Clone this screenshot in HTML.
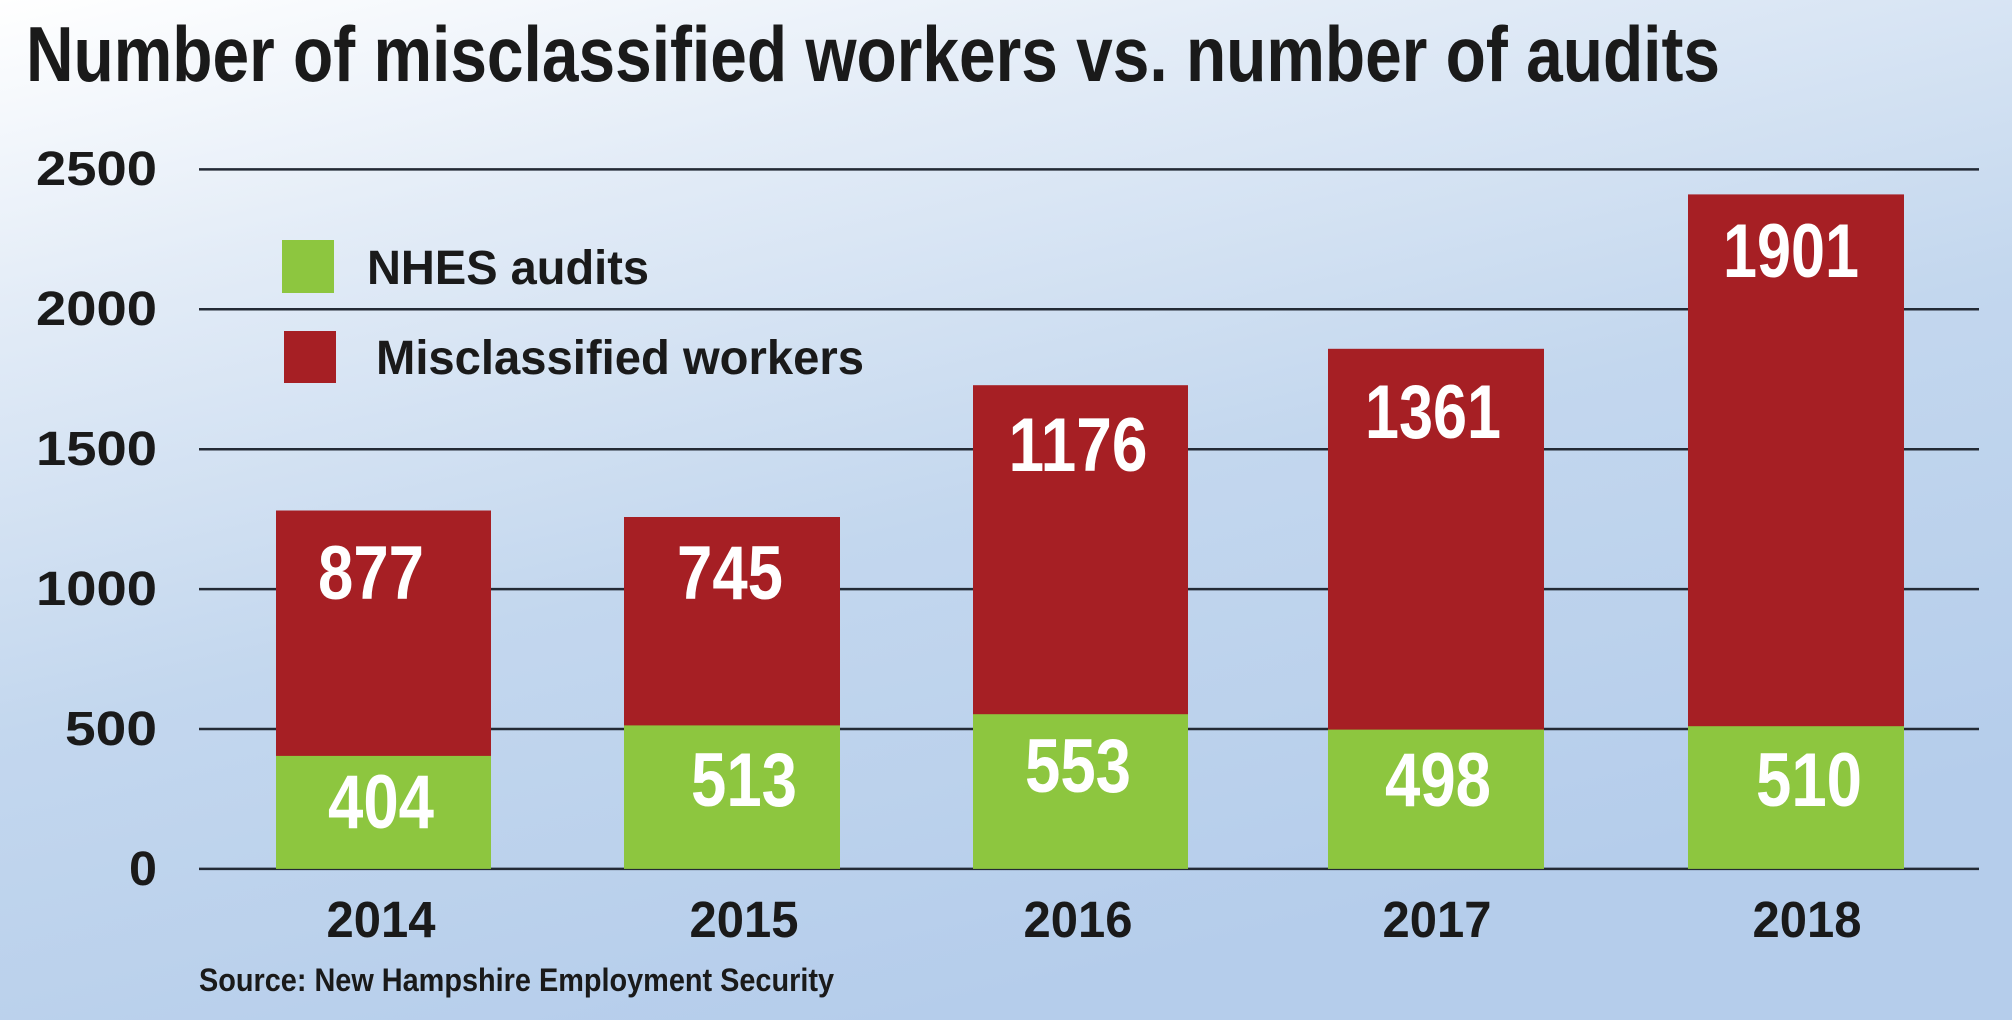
<!DOCTYPE html>
<html><head><meta charset="utf-8"><style>
html,body{margin:0;padding:0;width:2012px;height:1020px;overflow:hidden}
svg{display:block}
.n{font-family:"Liberation Sans Narrow","Liberation Sans",sans-serif;font-weight:bold}
.s{font-family:"Liberation Sans",sans-serif;font-weight:bold}
</style></head><body>
<svg width="2012" height="1020" viewBox="0 0 2012 1020" xmlns="http://www.w3.org/2000/svg">
<defs>
<linearGradient id="bg" x1="0" y1="0" x2="0.45" y2="1">
<stop offset="0" stop-color="#ffffff"/>
<stop offset="0.25" stop-color="#e3ecf7"/>
<stop offset="0.6" stop-color="#c3d7ee"/>
<stop offset="1" stop-color="#b5cdeb"/>
</linearGradient>
</defs>
<rect width="2012" height="1020" fill="url(#bg)"/>
<text class="n" x="26" y="81" font-size="78" fill="#1a1a1a" textLength="1694" lengthAdjust="spacingAndGlyphs">Number of misclassified workers vs. number of audits</text>
<g stroke="#232a35" stroke-width="2.5">
<line x1="199" y1="169.4" x2="1979" y2="169.4"/>
<line x1="199" y1="309.3" x2="1979" y2="309.3"/>
<line x1="199" y1="449.2" x2="1979" y2="449.2"/>
<line x1="199" y1="589.1" x2="1979" y2="589.1"/>
<line x1="199" y1="729" x2="1979" y2="729"/>
<line x1="199" y1="868.9" x2="1979" y2="868.9"/>
</g>
<g class="s" font-size="48" fill="#1a1a1a" text-anchor="end">
<text x="157" y="185" textLength="121" lengthAdjust="spacingAndGlyphs">2500</text>
<text x="157" y="325" textLength="121" lengthAdjust="spacingAndGlyphs">2000</text>
<text x="157" y="465" textLength="121" lengthAdjust="spacingAndGlyphs">1500</text>
<text x="157" y="605" textLength="121" lengthAdjust="spacingAndGlyphs">1000</text>
<text x="157" y="745" textLength="92" lengthAdjust="spacingAndGlyphs">500</text>
<text x="157" y="885" textLength="28" lengthAdjust="spacingAndGlyphs">0</text>
</g>
<g fill="#a61f24">
<rect x="276" y="510.5" width="215" height="246"/>
<rect x="624" y="517" width="216" height="209"/>
<rect x="973" y="385.2" width="215" height="330"/>
<rect x="1328" y="348.8" width="216" height="382"/>
<rect x="1688" y="194.4" width="216" height="533"/>
</g>
<g fill="#8dc63f">
<rect x="276" y="755.9" width="215" height="113"/>
<rect x="624" y="725.4" width="216" height="143.5"/>
<rect x="973" y="714.2" width="215" height="154.7"/>
<rect x="1328" y="729.6" width="216" height="139.3"/>
<rect x="1688" y="726.2" width="216" height="142.7"/>
</g>
<g class="n" font-size="76" fill="#fff" text-anchor="middle">
<text x="371" y="599" textLength="106" lengthAdjust="spacingAndGlyphs">877</text>
<text x="381" y="828" textLength="106" lengthAdjust="spacingAndGlyphs">404</text>
<text x="730" y="599" textLength="106" lengthAdjust="spacingAndGlyphs">745</text>
<text x="744" y="806" textLength="106" lengthAdjust="spacingAndGlyphs">513</text>
<text x="1078" y="471" textLength="139" lengthAdjust="spacingAndGlyphs">1176</text>
<text x="1078" y="792" textLength="106" lengthAdjust="spacingAndGlyphs">553</text>
<text x="1433" y="438" textLength="136" lengthAdjust="spacingAndGlyphs">1361</text>
<text x="1438" y="806" textLength="106" lengthAdjust="spacingAndGlyphs">498</text>
<text x="1791" y="277" textLength="136" lengthAdjust="spacingAndGlyphs">1901</text>
<text x="1809" y="806" textLength="106" lengthAdjust="spacingAndGlyphs">510</text>
</g>
<g class="s" font-size="51" fill="#1a1a1a" text-anchor="middle">
<text x="381" y="937" textLength="109" lengthAdjust="spacingAndGlyphs">2014</text>
<text x="744" y="937" textLength="109" lengthAdjust="spacingAndGlyphs">2015</text>
<text x="1078" y="937" textLength="109" lengthAdjust="spacingAndGlyphs">2016</text>
<text x="1437" y="937" textLength="109" lengthAdjust="spacingAndGlyphs">2017</text>
<text x="1807" y="937" textLength="109" lengthAdjust="spacingAndGlyphs">2018</text>
</g>
<rect x="282" y="240" width="52" height="53" fill="#8dc63f"/>
<rect x="284" y="331" width="52" height="52" fill="#a61f24"/>
<text class="s" x="367" y="284" font-size="48" fill="#1a1a1a" textLength="282" lengthAdjust="spacingAndGlyphs">NHES audits</text>
<text class="s" x="376" y="374" font-size="48" fill="#1a1a1a" textLength="488" lengthAdjust="spacingAndGlyphs">Misclassified workers</text>
<text class="s" x="199" y="991" font-size="32" fill="#1a1a1a" textLength="635" lengthAdjust="spacingAndGlyphs">Source: New Hampshire Employment Security</text>
</svg>
</body></html>
